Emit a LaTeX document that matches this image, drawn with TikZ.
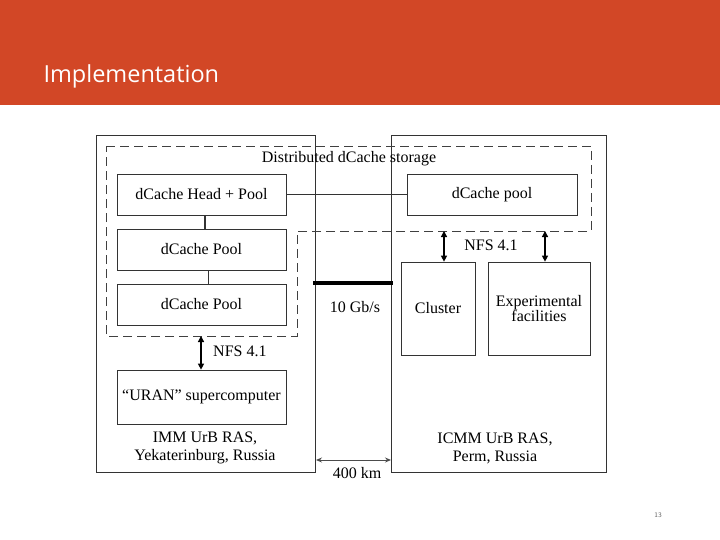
\documentclass[tikz,border=0pt]{standalone}
\usepackage{fontspec}
\setmainfont{Liberation Serif}
\newfontfamily\titlefont{Open Sans}
\usetikzlibrary{arrows.meta}
\definecolor{hdr}{HTML}{D24726}
\begin{document}
\begin{tikzpicture}[x=1pt,y=-1pt,
  bx/.style={draw=black!80,line width=0.7pt},
  box/.style={draw=black!80,line width=0.7pt,minimum width=169pt,minimum height=41pt,inner sep=0pt,font=\fontsize{16}{18}\selectfont},
  lbl/.style={font=\fontsize{16}{18}\selectfont,align=center,inner sep=0pt},
  dbl/.style={{Triangle[length=6pt,width=6pt]}-{Triangle[length=6pt,width=6pt]},line width=1.3pt}]
\useasboundingbox (0,0) rectangle (720,540);
\fill[hdr] (0,0) rectangle (720,105);
\node[anchor=west,text=white,font=\titlefont\fontsize{23.5}{26}\selectfont] (title) at (40,76) {Implementation};
\node[text=black!60,font=\sffamily\fontsize{7}{8}\selectfont] (pg) at (658,515) {13};
% sites
\draw[bx] (96,135) rectangle (315,472);
\draw[bx] (391,135) rectangle (606,472);
% dashed storage
\draw[dashed,dash pattern=on 9pt off 5pt,line width=0.8pt,draw=black!75] (106,146) -- (591,146) -- (591,231) -- (297,231) -- (297,336) -- (106,336) -- cycle;
\node[lbl] (dist) at (349,159) {Distributed dCache storage};
\node[box,minimum width=169pt] (head) at (201.5,194.5) {dCache Head + Pool};
\node[box,minimum width=170pt] (rpool) at (492,194.5) {dCache pool};
\node[box] (p1) at (201.5,249.5) {dCache Pool};
\node[box] (p2) at (201.5,304.5) {dCache Pool};
\node[box,minimum height=54pt] (uran) at (201.5,397) {``URAN'' supercomputer};
\node[box,minimum width=74pt,minimum height=93pt] (cl) at (438,308.5) {Cluster};
\node[box,minimum width=102pt,minimum height=93pt,align=center] (exp) at (539,308.5) {Experimental\\[-3pt]facilities};
\draw[bx] (head) -- (rpool);
\draw[bx,line width=1.2pt] (head.south -| 205,0) -- (p1.north -| 205,0);
\draw[bx] (p1.south -| 208,0) -- (p2.north -| 208,0);
\coordinate (dl) at (201,336);
\draw[dbl] (dl) -- (uran.north -| dl);
\node[lbl,anchor=west] (nfs1) at (213,351) {NFS 4.1};
\coordinate (dr1) at (444,231);
\coordinate (dr2) at (545,231);
\draw[dbl] (dr1) -- (cl.north -| dr1);
\draw[dbl] (dr2) -- (exp.north -| dr2);
\node[lbl] (nfs2) at (491,245) {NFS 4.1};
\coordinate (t1) at (313,283);
\coordinate (t2) at (393,283);
\draw[line width=4.5pt] (t1) -- (t2);
\node[lbl] (gb) at (355,307) {10 Gb/s};
\coordinate (k1) at (316,460);
\coordinate (k2) at (391,460);
\draw[{Stealth[length=6pt,width=5pt]}-{Stealth[length=6pt,width=5pt]},draw=black!70,line width=0.9pt] (k1) -- (k2);
\node[lbl] (km) at (357,473) {400 km};
\node[lbl] (imm) at (205,448) {IMM UrB RAS,\\Yekaterinburg, Russia};
\node[lbl] (icmm) at (495,448) {ICMM UrB RAS,\\Perm, Russia};
\end{tikzpicture}
\end{document}
